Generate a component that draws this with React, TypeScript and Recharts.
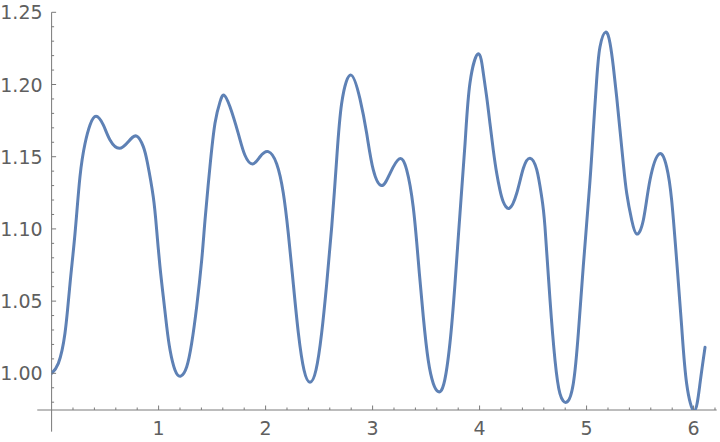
import React from "react";
import { LineChart, Line, XAxis, YAxis, ReferenceLine } from "recharts";

const xValues = [
  0, 0.063, 0.125, 0.172, 0.219, 0.265, 0.312, 0.359, 0.415, 0.483, 0.546, 0.633, 0.717, 0.795, 0.857, 0.895,
  0.95, 0.982, 1.013, 1.044, 1.076, 1.107, 1.153, 1.207, 1.263, 1.309, 1.356, 1.403, 1.434, 1.48, 1.527, 1.574,
  1.611, 1.667, 1.745, 1.807, 1.879, 1.948, 2.025, 2.104, 2.165, 2.212, 2.259, 2.306, 2.359, 2.415, 2.471, 2.524,
  2.571, 2.618, 2.664, 2.711, 2.795, 2.882, 2.945, 3.006, 3.085, 3.163, 3.25, 3.318, 3.38, 3.427, 3.474, 3.52,
  3.567, 3.614, 3.667, 3.723, 3.77, 3.817, 3.864, 3.91, 3.988, 4.035, 4.066, 4.097, 4.128, 4.16, 4.19, 4.221,
  4.278, 4.347, 4.409, 4.471, 4.534, 4.58, 4.611, 4.658, 4.705, 4.751, 4.814, 4.876, 4.923, 4.969, 5.03, 5.063,
  5.094, 5.125, 5.178, 5.219, 5.25, 5.281, 5.312, 5.343, 5.375, 5.422, 5.468, 5.53, 5.593, 5.68, 5.748, 5.795,
  5.842, 5.889, 5.935, 6.007, 6.06, 6.107,
];

const yValues = [
  1.0, 1.0069, 1.0277, 1.062, 1.097, 1.136, 1.159, 1.172, 1.178, 1.172, 1.1616, 1.1558, 1.1604, 1.1643, 1.157, 1.146,
  1.1223, 1.0992, 1.0738, 1.053, 1.0323, 1.0161, 1.0023, 0.9981, 1.0046, 1.0208, 1.0462, 1.0785, 1.1062, 1.1431, 1.1731, 1.188,
  1.1927, 1.1846, 1.166, 1.151, 1.145, 1.15, 1.1535, 1.145, 1.125, 1.097, 1.062, 1.028, 1.0023, 0.9938, 1.0023, 1.028,
  1.062, 1.1015, 1.148, 1.187, 1.2066, 1.19, 1.166, 1.141, 1.13, 1.1385, 1.1486, 1.141, 1.115, 1.078, 1.039, 1.009,
  0.993, 0.9873, 0.993, 1.021, 1.062, 1.111, 1.159, 1.201, 1.2213, 1.2077, 1.1915, 1.173, 1.1546, 1.1385, 1.127, 1.1188,
  1.1143, 1.1247, 1.142, 1.149, 1.141, 1.1223, 1.1015, 1.051, 1.009, 0.986, 0.98, 0.993, 1.028, 1.074, 1.1316, 1.1685,
  1.203, 1.226, 1.2363, 1.2285, 1.2123, 1.1915, 1.1685, 1.1454, 1.1247, 1.106, 1.0965, 1.106, 1.134, 1.152, 1.143, 1.12,
  1.078, 1.032, 0.993, 0.974, 0.993, 1.018,
];

// tick positions (in hundredths for y, fifths for x)
const yTickHundredths = Array.from({ length: 28 }, (_, i) => 98 + i); // 0.98 .. 1.25
const xTickFifths = Array.from({ length: 31 }, (_, i) => 1 + i); // 0.2 .. 6.2

const yTicks = yTickHundredths.map((v) => v / 100);
const xTicks = xTickFifths.map((v) => v / 5);

const data = xValues.map((x, i) => ({ x, y: yValues[i] }));

const AXIS = "#7a7a7a";
const LABEL = "#5f5f5f";
const FONT = "DejaVu Sans, sans-serif";

const XTick = (props: any) => {
  const { x, y, payload } = props;
  const v = payload.value as number;
  const fifth = Math.round(v * 5);
  const major = fifth % 5 === 0;
  return (
    <g>
      <line x1={x} x2={x} y1={y} y2={y - (major ? 4.5 : 2.5)} stroke={AXIS} strokeWidth={1} />
      {major && (
        <text x={x} y={y + 25} textAnchor="middle" fill={LABEL} fontSize={19} fontFamily={FONT}>
          {String(fifth / 5)}
        </text>
      )}
    </g>
  );
};

const YTick = (props: any) => {
  const { x, y, payload } = props;
  const v = payload.value as number;
  const h = Math.round(v * 100);
  const major = h % 5 === 0;
  return (
    <g>
      <line x1={x} x2={x + (major ? 4.5 : 2.5)} y1={y} y2={y} stroke={AXIS} strokeWidth={1} />
      {major && (
        <text x={x - 9} y={y + 7} textAnchor="end" fill={LABEL} fontSize={19} fontFamily={FONT}>
          {(h / 100).toFixed(2)}
        </text>
      )}
    </g>
  );
};

export default function App() {
  return (
    <div style={{ position: "absolute", left: 0, top: 0, width: 720, height: 442, background: "#fff" }}>
      <LineChart width={720} height={442} data={data} margin={{ top: 12.3, right: 3.3, left: 0, bottom: 0 }}>
        <XAxis
          dataKey="x"
          type="number"
          domain={[0, 6.216]}
          allowDataOverflow
          ticks={xTicks}
          tick={<XTick />}
          tickSize={0}
          tickMargin={0}
          axisLine={false}
          tickLine={false}
          height={32}
          interval={0}
        />
        <YAxis
          type="number"
          domain={[0.9746, 1.25]}
          allowDataOverflow
          ticks={yTicks}
          tick={<YTick />}
          tickSize={0}
          tickMargin={0}
          axisLine={false}
          tickLine={false}
          width={51.6}
          interval={0}
        />
        <ReferenceLine
          segment={[
            { x: -0.134, y: 0.9746 },
            { x: 6.216, y: 0.9746 },
          ]}
          stroke={AXIS}
          strokeWidth={1}
          ifOverflow="visible"
        />
        <ReferenceLine
          segment={[
            { x: 0, y: 0.9596 },
            { x: 0, y: 1.25 },
          ]}
          stroke={AXIS}
          strokeWidth={1}
          ifOverflow="visible"
        />
        <Line
          type="natural"
          dataKey="y"
          stroke="#5E81B5"
          strokeWidth={3}
          strokeLinejoin="round"
          strokeLinecap="round"
          dot={false}
          isAnimationActive={false}
        />
      </LineChart>
    </div>
  );
}
